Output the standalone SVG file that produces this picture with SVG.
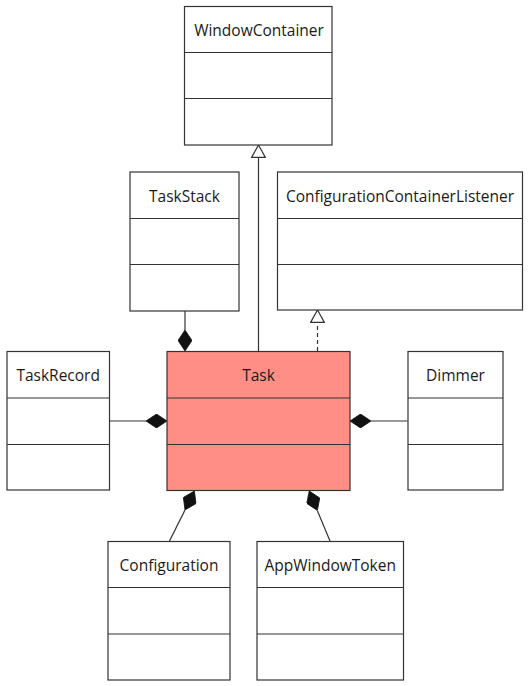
<svg xmlns="http://www.w3.org/2000/svg" width="531" height="686" viewBox="0 0 531 686">
<style>
.box{fill:#ffffff;stroke:#333333;stroke-width:1.2}
.task{fill:#ff8f86;stroke:#333333;stroke-width:1.2}
.div{stroke:#333333;stroke-width:1.2}
.lbl{font-family:"Open Sans","Noto Sans","DejaVu Sans",sans-serif;font-size:15.5px;fill:#1a1a1a;text-anchor:middle}
.edge{fill:none;stroke:#333333;stroke-width:1.2}
.dash{stroke-dasharray:4 3}
</style>
<defs>
<marker id="diamond" viewBox="0 0 21 14" refX="0" refY="7" markerWidth="21" markerHeight="14" markerUnits="userSpaceOnUse" orient="auto">
<path d="M0,7 L10.5,0 L21,7 L10.5,14 Z" fill="#111111" stroke="#111111" stroke-width="0.8"/>
</marker>
<marker id="tri" viewBox="0 0 14 15" refX="0" refY="7.5" markerWidth="14" markerHeight="15" markerUnits="userSpaceOnUse" orient="auto">
<path d="M0.6,0.6 L13,7.5 L0.6,14.4 Z" fill="#ffffff" stroke="#333333" stroke-width="1.2"/>
</marker>
</defs>
<g id="connectors">
<path id="e-inherit" class="edge" d="M258.5,351 L258.5,158" marker-end="url(#tri)"/>
<path id="e-realize" class="edge dash" d="M317.5,351 L317.5,323" marker-end="url(#tri)"/>
<path id="e-taskstack" class="edge" d="M185,311 L185,330" marker-end="url(#diamond)"/>
<path id="e-taskrecord" class="edge" d="M109.5,421 L146,421" marker-end="url(#diamond)"/>
<path id="e-dimmer" class="edge" d="M407.5,421 L371,421" marker-end="url(#diamond)"/>
<path id="e-config" class="edge" d="M169.5,541 L185,509.9" marker-end="url(#diamond)"/>
<path id="e-appwin" class="edge" d="M330,541 L317.3,510.4" marker-end="url(#diamond)"/>
</g>
<g id="WindowContainer">
<rect class="box" x="184.5" y="6.5" width="147.5" height="138.5"/>
<line class="div" x1="184.5" y1="52.5" x2="332" y2="52.5"/>
<line class="div" x1="184.5" y1="98.5" x2="332" y2="98.5"/>
<text class="lbl" x="259" y="35.7">WindowContainer</text>
</g>
<g id="TaskStack">
<rect class="box" x="130" y="172" width="109" height="139"/>
<line class="div" x1="130" y1="218.5" x2="239" y2="218.5"/>
<line class="div" x1="130" y1="264.5" x2="239" y2="264.5"/>
<text class="lbl" x="184.5" y="201.5">TaskStack</text>
</g>
<g id="ConfigurationContainerListener">
<rect class="box" x="277.5" y="172" width="245" height="138"/>
<line class="div" x1="277.5" y1="218.5" x2="522.5" y2="218.5"/>
<line class="div" x1="277.5" y1="264.5" x2="522.5" y2="264.5"/>
<text class="lbl" x="400" y="201.5">ConfigurationContainerListener</text>
</g>
<g id="TaskRecord">
<rect class="box" x="7" y="351.5" width="102.5" height="138.5"/>
<line class="div" x1="7" y1="398" x2="109.5" y2="398"/>
<line class="div" x1="7" y1="444.5" x2="109.5" y2="444.5"/>
<text class="lbl" x="58.2" y="381">TaskRecord</text>
</g>
<g id="Task">
<rect class="task" x="167" y="351.5" width="183" height="139"/>
<line class="div" x1="167" y1="398" x2="350" y2="398"/>
<line class="div" x1="167" y1="444.5" x2="350" y2="444.5"/>
<text class="lbl" x="258.5" y="381">Task</text>
</g>
<g id="Dimmer">
<rect class="box" x="408" y="351.5" width="95" height="138.5"/>
<line class="div" x1="408" y1="398" x2="503" y2="398"/>
<line class="div" x1="408" y1="444.5" x2="503" y2="444.5"/>
<text class="lbl" x="455.5" y="381">Dimmer</text>
</g>
<g id="Configuration">
<rect class="box" x="108" y="541.5" width="122" height="138.5"/>
<line class="div" x1="108" y1="587.5" x2="230" y2="587.5"/>
<line class="div" x1="108" y1="634" x2="230" y2="634"/>
<text class="lbl" x="169" y="571">Configuration</text>
</g>
<g id="AppWindowToken">
<rect class="box" x="257" y="541.5" width="146.5" height="138.5"/>
<line class="div" x1="257" y1="587.5" x2="403.5" y2="587.5"/>
<line class="div" x1="257" y1="634" x2="403.5" y2="634"/>
<text class="lbl" x="330.2" y="571">AppWindowToken</text>
</g>
</svg>
